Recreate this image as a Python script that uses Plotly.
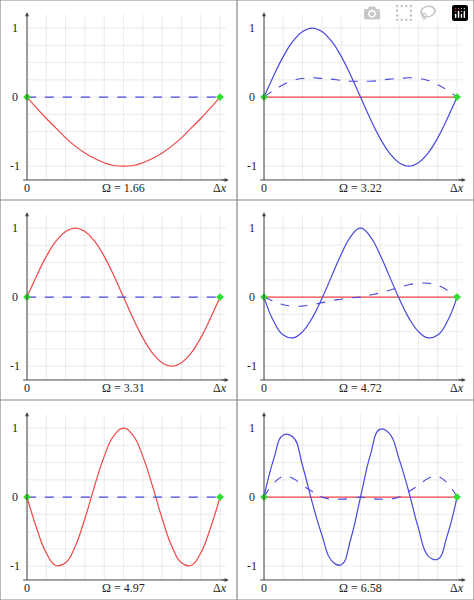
import plotly.graph_objects as go
from plotly.subplots import make_subplots

xs = [round(i * 0.05, 2) for i in range(21)]
zero = [0.0] * 21

omegas = ["1.66", "3.22", "3.31", "4.72", "4.97", "6.58"]

red_1 = [0, -.16, -.31, -.45, -.59, -.71, -.81, -.89, -.95, -.99, -1, -.99, -.95, -.89, -.81, -.71, -.59, -.45, -.31, -.16, 0]
blue_2 = [0, .31, .59, .81, .95, 1, .95, .81, .59, .31, 0, -.31, -.59, -.81, -.95, -1, -.95, -.81, -.59, -.31, 0]
dash_2 = [0, .1, .18, .24, .27, .28, .27, .26, .24, .23, .23, .23, .24, .26, .27, .28, .27, .24, .18, .1, 0]
red_3 = [0, .31, .59, .81, .95, 1, .95, .81, .59, .31, 0, -.31, -.59, -.81, -.95, -1, -.95, -.81, -.59, -.31, 0]
blue_4 = [0, -.35, -.55, -.59, -.5, -.3, -.02, .3, .62, .88, 1, .88, .62, .3, -.02, -.3, -.5, -.59, -.55, -.35, 0]
dash_4 = [0, -.06, -.11, -.13, -.13, -.11, -.08, -.05, -.03, -.01, 0, .03, .06, .1, .14, .18, .2, .2, .17, .1, 0]
red_5 = [0, -.45, -.81, -.99, -.95, -.71, -.31, .16, .59, .89, 1, .89, .59, .16, -.31, -.71, -.95, -.99, -.81, -.45, 0]
blue_6 = [0, .55, .9, .87, .45, -.08, -.55, -.92, -.98, -.6, 0, .6, .98, .92, .55, .08, -.45, -.85, -.9, -.55, 0]
dash_6 = [0, .2, .3, .27, .17, .08, 0, -.03, -.03, -.02, 0, -.02, -.03, -.03, 0, .08, .17, .27, .3, .2, 0]

# (red, blue solid, blue dashed) per panel
panels = [
    (red_1, None, zero),
    (zero, blue_2, dash_2),
    (red_3, None, zero),
    (zero, blue_4, dash_4),
    (red_5, None, zero),
    (zero, blue_6, dash_6),
]

RED = "#f04848"
BLUE = "#4848e0"
GRID = "#e6e6e6"
FONT = "Liberation Serif"

fig = make_subplots(rows=3, cols=2, horizontal_spacing=0, vertical_spacing=0)

for i, (red, blue, dash) in enumerate(panels):
    r, c = i // 2 + 1, i % 2 + 1
    xref = f"x{i+1}" if i else "x"
    yref = f"y{i+1}" if i else "y"
    # grid
    for k in range(11):
        fig.add_shape(type="line", x0=k / 10, x1=k / 10, y0=-1.2, y1=1.2,
                      line=dict(color=GRID, width=0.8), layer="below", row=r, col=c)
    for k in range(-4, 5):
        fig.add_shape(type="line", x0=0, x1=1.03, y0=k / 4, y1=k / 4,
                      line=dict(color=GRID, width=0.8), layer="below", row=r, col=c)
    # axes with arrows
    fig.add_shape(type="line", x0=0, x1=0, y0=-1.2, y1=1.2,
                  line=dict(color="#444", width=1), row=r, col=c)
    fig.add_shape(type="line", x0=-0.02, x1=1.03, y0=-1.2, y1=-1.2,
                  line=dict(color="#444", width=1), row=r, col=c)
    fig.add_annotation(x=0, y=1.23, ax=0, ay=1.15, axref=xref, ayref=yref, text="",
                       showarrow=True, arrowhead=2, arrowsize=0.8, arrowwidth=1,
                       arrowcolor="#444", row=r, col=c)
    fig.add_annotation(x=1.045, y=-1.2, ax=1.0, ay=-1.2, axref=xref, ayref=yref, text="",
                       showarrow=True, arrowhead=2, arrowsize=0.8, arrowwidth=1,
                       arrowcolor="#444", row=r, col=c)
    for yv, lab in [(1, "1"), (0, "0"), (-1, "-1")]:
        fig.add_annotation(x=-0.06, y=yv, text=lab, showarrow=False,
                           font=dict(family=FONT, size=12, color="#222"), row=r, col=c)
    fig.add_annotation(x=0, y=-1.31, text="0", showarrow=False,
                       font=dict(family=FONT, size=12, color="#222"), row=r, col=c)
    fig.add_annotation(x=0.5, y=-1.31, text=f"Ω = {omegas[i]}", showarrow=False,
                       font=dict(family=FONT, size=12, color="#222"), row=r, col=c)
    fig.add_annotation(x=1.0, y=-1.31, text="Δ<i>x</i>", showarrow=False,
                       font=dict(family=FONT, size=12, color="#222"), row=r, col=c)
    # curves
    fig.add_trace(go.Scatter(x=xs, y=red, mode="lines",
                             line=dict(color=RED, width=1.2, shape="spline", smoothing=1.3)),
                  row=r, col=c)
    if blue is not None:
        fig.add_trace(go.Scatter(x=xs, y=blue, mode="lines",
                                 line=dict(color=BLUE, width=1.2, shape="spline", smoothing=1.3)),
                      row=r, col=c)
    fig.add_trace(go.Scatter(x=xs, y=dash, mode="lines",
                             line=dict(color=BLUE, width=1.1, dash="dash", shape="spline", smoothing=1.3)),
                  row=r, col=c)
    fig.add_trace(go.Scatter(x=[0, 1], y=[0, 0], mode="markers",
                             marker=dict(color="#33dd33", size=6, symbol="diamond")),
                  row=r, col=c)

fig.update_xaxes(range=[-0.14, 1.088], visible=False, fixedrange=True)
fig.update_yaxes(range=[-1.49, 1.406], visible=False, fixedrange=True)

# panel borders
for x in [0, 0.5, 1]:
    fig.add_shape(type="line", xref="paper", yref="paper", x0=x, x1=x, y0=0, y1=1,
                  line=dict(color="#888", width=1.2))
for y in [0, 1 / 3, 2 / 3, 1]:
    fig.add_shape(type="line", xref="paper", yref="paper", x0=0, x1=1, y0=y, y1=y,
                  line=dict(color="#888", width=1.2))

fig.update_layout(width=474, height=600, margin=dict(l=0, r=0, t=0, b=0),
                  showlegend=False, plot_bgcolor="white", paper_bgcolor="white")
fig.write_html("out.html", post_script="document.body.style.margin='0';document.body.style.overflow='hidden';")
